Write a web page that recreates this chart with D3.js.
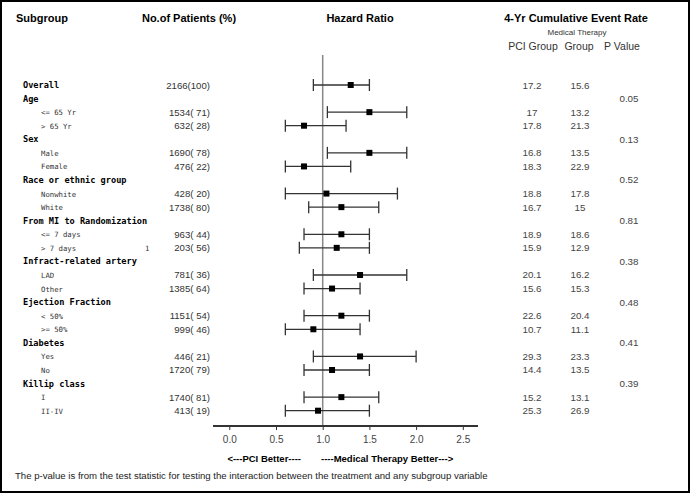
<!DOCTYPE html>
<html lang="en">
	<head>
		<meta charset="utf-8">
		<title>Forest plot: hazard ratio by subgroup</title>
		<script type="text/javascript" src="https://cdnjs.cloudflare.com/ajax/libs/d3/7.8.5/d3.min.js"></script>
		<style type="text/css">
			body { margin: 0; background: #fff; }
			text { font-family: Arial, "Liberation Sans", sans-serif; }
			.mono { font-family: "DejaVu Sans Mono", "Liberation Mono", monospace; }
		</style>
	</head>
	<body>
		<script type="text/javascript">

			//Width and height
			var w = 690;
			var h = 493;

			// one entry per row, top to bottom; null where the row has no value
			var labels = ["Overall", "Age", "<= 65 Yr", "> 65 Yr", "Sex", "Male", "Female",
				"Race or ethnic group", "Nonwhite", "White", "From MI to Randomization", "<= 7 days", "> 7 days",
				"Infract-related artery", "LAD", "Other", "Ejection Fraction", "< 50%", ">= 50%",
				"Diabetes", "Yes", "No", "Killip class", "I", "II-IV"]
			var level = [0,0,1,1,0,1,1,0,1,1,0,1,1,0,1,1,0,1,1,0,1,1,0,1,1]
			var patients = ["2166(100)", null, "1534( 71)", "632( 28)", null, "1690( 78)", "476( 22)",
				null, "428( 20)", "1738( 80)", null, "963( 44)", "203( 56)",
				null, "781( 36)", "1385( 64)", null, "1151( 54)", "999( 46)",
				null, "446( 21)", "1720( 79)", null, "1740( 81)", "413( 19)"]
			var hr = [1.3, null, 1.5, 0.8, null, 1.5, 0.8, null, 1.04, 1.2, null, 1.2, 1.15,
				null, 1.4, 1.1, null, 1.2, 0.9, null, 1.4, 1.1, null, 1.2, 0.95]
			var lo = [0.9, null, 1.05, 0.6, null, 1.05, 0.6, null, 0.6, 0.85, null, 0.8, 0.75,
				null, 0.9, 0.8, null, 0.8, 0.6, null, 0.9, 0.8, null, 0.8, 0.6]
			var hi = [1.5, null, 1.9, 1.25, null, 1.9, 1.3, null, 1.8, 1.6, null, 1.5, 1.5,
				null, 1.9, 1.4, null, 1.5, 1.4, null, 2.0, 1.5, null, 1.6, 1.5]
			var pciRate = [17.2, null, 17, 17.8, null, 16.8, 18.3, null, 18.8, 16.7, null, 18.9, 15.9,
				null, 20.1, 15.6, null, 22.6, 10.7, null, 29.3, 14.4, null, 15.2, 25.3]
			var medRate = [15.6, null, 13.2, 21.3, null, 13.5, 22.9, null, 17.8, 15, null, 18.6, 12.9,
				null, 16.2, 15.3, null, 20.4, 11.1, null, 23.3, 13.5, null, 13.1, 26.9]
			var pValues = [null, "0.05", null, null, "0.13", null, null, "0.52", null, null, "0.81", null, null,
				"0.38", null, null, "0.48", null, null, "0.41", null, null, "0.39", null, null]
			var xTicks = [0, 0.5, 1, 1.5, 2, 2.5]

			var rows = labels.map((d,i)=>({
				label: d, level: level[i], n: patients[i], hr: hr[i], lo: lo[i], hi: hi[i],
				pci: pciRate[i], med: medRate[i], p: pValues[i], i: i
			}))

			var xScale = d3.scaleLinear()
							.domain([0,2.5])
							.range([229.3,462.8])

			var yScale = d3.scaleLinear()
							.domain([0,rows.length-1])
							.range([85,410.7])

			var svg = d3.select('body')
							.append('svg')
							.attr('width',w)
							.attr('height',h)

			// frame
			svg.append('rect')
				.attr('x',1).attr('y',1)
				.attr('width',w-2).attr('height',h-2)
				.attr('fill','none')
				.attr('stroke','#000')
				.attr('stroke-width',2)

			// column headers
			var head = svg.append('g')
					.attr('font-weight','bold')
					.attr('font-size','11px')
					.attr('fill','#000')
			head.append('text').attr('x',16).attr('y',22).text('Subgroup')
			head.append('text').attr('x',189).attr('y',22).attr('text-anchor','middle').text('No.of Patients (%)')
			head.append('text').attr('x',360).attr('y',22).attr('text-anchor','middle').text('Hazard Ratio')
			head.append('text').attr('x',576).attr('y',22).attr('text-anchor','middle').text('4-Yr Cumulative Event Rate')

			svg.append('text')
				.attr('x',577).attr('y',35)
				.attr('text-anchor','middle')
				.attr('font-size','8px')
				.attr('fill','#333')
				.text('Medical Therapy')

			var sub = svg.append('g')
					.attr('font-size','10.5px')
					.attr('fill','#333')
					.attr('text-anchor','middle')
			sub.append('text').attr('x',533).attr('y',50).text('PCI Group')
			sub.append('text').attr('x',579).attr('y',50).text('Group')
			sub.append('text').attr('x',622).attr('y',50).text('P Value')

			// subgroup labels
			svg.append('g')
				.selectAll('text')
					.data(rows)
					.enter()
					.append('text')
					.attr('class','mono')
					.attr('x',d=>d.level ? 41 : 23)
					.attr('y',d=>yScale(d.i)+3)
					.attr('font-size',d=>d.level ? '7.3px' : '8.6px')
					.attr('font-weight',d=>d.level ? 'normal' : 'bold')
					.attr('fill',d=>d.level ? '#333' : '#000')
					.attr('xml:space','preserve')
					.text(d=>d.label)

			// stray mark in the source output
			svg.append('text')
				.attr('class','mono')
				.attr('x',145).attr('y',yScale(12)+3)
				.attr('font-size','7.3px')
				.attr('fill','#333')
				.text('1')

			var withData = rows.filter(d=>d.n !== null)

			// patients
			svg.append('g')
					.attr('font-size','9.6px')
					.attr('fill','#333')
					.attr('text-anchor','end')
				.selectAll('text')
					.data(withData)
					.enter()
					.append('text')
					.attr('x',210)
					.attr('y',d=>yScale(d.i)+3.5)
					.attr('xml:space','preserve')
					.text(d=>d.n)

			// event rates
			var rates = svg.append('g')
					.attr('font-size','9.8px')
					.attr('fill','#444')
					.attr('text-anchor','middle')
			rates.selectAll('text.pci')
					.data(withData)
					.enter()
					.append('text')
					.attr('class','pci')
					.attr('x',532)
					.attr('y',d=>yScale(d.i)+3.5)
					.text(d=>d.pci)
			rates.selectAll('text.med')
					.data(withData)
					.enter()
					.append('text')
					.attr('class','med')
					.attr('x',580)
					.attr('y',d=>yScale(d.i)+3.5)
					.text(d=>d.med)
			rates.selectAll('text.p')
					.data(rows.filter(d=>d.p !== null))
					.enter()
					.append('text')
					.attr('class','p')
					.attr('x',629)
					.attr('y',d=>yScale(d.i)+3.5)
					.text(d=>d.p)

			// reference line at HR = 1
			svg.append('line')
				.attr('x1',xScale(1)).attr('x2',xScale(1))
				.attr('y1',55).attr('y2',426)
				.attr('stroke','#888')
				.attr('stroke-width',1.5)

			// confidence intervals
			var ci = svg.append('g')
					.attr('stroke','#333')
					.attr('stroke-width',1.3)
				.selectAll('g')
					.data(withData)
					.enter()
					.append('g')
			ci.append('line')
				.attr('x1',d=>xScale(d.lo)).attr('x2',d=>xScale(d.hi))
				.attr('y1',d=>yScale(d.i)).attr('y2',d=>yScale(d.i))
			ci.append('line')
				.attr('x1',d=>xScale(d.lo)).attr('x2',d=>xScale(d.lo))
				.attr('y1',d=>yScale(d.i)-6).attr('y2',d=>yScale(d.i)+6)
			ci.append('line')
				.attr('x1',d=>xScale(d.hi)).attr('x2',d=>xScale(d.hi))
				.attr('y1',d=>yScale(d.i)-6).attr('y2',d=>yScale(d.i)+6)

			// point estimates
			svg.append('g')
					.attr('fill','#000')
				.selectAll('rect')
					.data(withData)
					.enter()
					.append('rect')
					.attr('x',d=>xScale(d.hr)-3)
					.attr('y',d=>yScale(d.i)-3)
					.attr('width',6)
					.attr('height',6)

			// x axis
			var xAxis = g=>g
							.attr('transform','translate(0,426)')
							.call(d3.axisBottom(xScale).tickValues(xTicks).tickFormat(d3.format('.1f')).tickSize(4).tickPadding(6))
							.call(g=>g.select('.domain').remove())
							.call(g=>g.selectAll('.tick line').attr('stroke','#333'))
							.call(g=>g.selectAll('.tick text')
								.attr('font-family','Arial, "Liberation Sans", sans-serif')
								.attr('font-size','10px')
								.attr('fill','#444'))

			svg.append('g')
				.call(xAxis)

			svg.append('line')
				.attr('x1',213).attr('x2',478)
				.attr('y1',426).attr('y2',426)
				.attr('stroke','#333')
				.attr('stroke-width',1.8)

			var better = svg.append('g')
					.attr('font-size','9.5px')
					.attr('font-weight','bold')
					.attr('fill','#000')
			better.append('text').attr('x',301).attr('y',462).attr('text-anchor','end').text('<---PCI Better----')
			better.append('text').attr('x',321).attr('y',462).text('----Medical Therapy Better--->')

			svg.append('text')
				.attr('x',15).attr('y',479)
				.attr('font-size','9.6px')
				.attr('fill','#222')
				.text('The p-value is from the test statistic for testing the interaction between the treatment and any subgroup variable')
		</script>
	</body>
</html>
